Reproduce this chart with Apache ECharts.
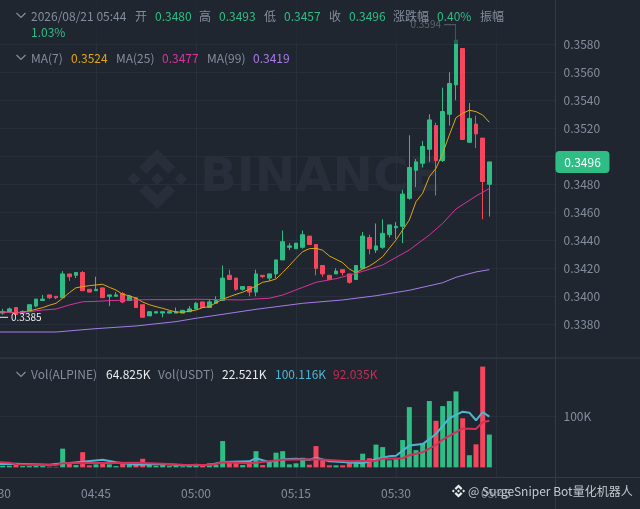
<!DOCTYPE html>
<html><head><meta charset="utf-8">
<style>html,body{margin:0;padding:0;background:#1f2630;overflow:hidden}#c{width:640px;height:509px}</style>
<script src="https://cdn.jsdelivr.net/npm/echarts@6/dist/echarts.min.js"></script>
</head><body><div id="c"></div>
<script>
const opens=[.3389,.3388,.3389,.3392,.3388,.3389,.3393,.3397,.3401,.3400,.3399,.3416,.3415,.3417,.3405,.3404,.3406,.3400,.3400,.3402,.3397,.3399,.3394,.3386,.3388,.3388,.3388,.3388,.3388,.3389,.3391,.3396,.3392,.3395,.3397,.3415,.3413,.3405,.3407,.3403,.3415,.3413,.3416,.3426,.3435,.3434,.3435,.3443,.3437,.3422,.3415,.3416,.3419,.3416,.3412,.3420,.3442,.3433,.3435,.3444,.3449,.3450,.3470,.3490,.3495,.3505,.3522,.3497,.3530,.3551,.3577,.3510,.3523,.3513,.3480];
const closes=[.3388,.3389,.3391,.3387,.3389,.3394,.3398,.3398,.3399,.3399,.3416,.3414,.3417,.3404,.3403,.3405,.3399,.3401,.3401,.3396,.3400,.3392,.3385,.3389,.3389,.3389,.3389,.3389,.3390,.3391,.3395,.3392,.3396,.3397,.3413,.3412,.3405,.3407,.3403,.3416,.3414,.3416,.3426,.3439,.3436,.3438,.3444,.3437,.3420,.3416,.3412,.3418,.3417,.3410,.3422,.3443,.3434,.3436,.3445,.3451,.3450,.3473,.3492,.3496,.3507,.3526,.3497,.3532,.3552,.3583,.3512,.3527,.3516,.3482,.3496];
const lows=[.3385,.3387,.3388,.3386,.3388,.3389,.3392,.3397,.3398,.3398,.3399,.3411,.3413,.3404,.3403,.3404,.3399,.3393,.3400,.3395,.3397,.3392,.3385,.3386,.3388,.3385,.3388,.3388,.3388,.3389,.3391,.3392,.3392,.3395,.3397,.3412,.3404,.3404,.3400,.3400,.3413,.3411,.3413,.3426,.3433,.3434,.3434,.3437,.3415,.3414,.3412,.3416,.3415,.3409,.3412,.3420,.3430,.3431,.3434,.3442,.3441,.3438,.3469,.3478,.3492,.3496,.3472,.3496,.3522,.3540,.3512,.3510,.3506,.3455,.3457];
const highs=[.3390,.3391,.3392,.3392,.3390,.3394,.3398,.3401,.3401,.3400,.3418,.3416,.3417,.3418,.3405,.3414,.3406,.3401,.3403,.3403,.3401,.3399,.3394,.3389,.3389,.3389,.3389,.3392,.3390,.3393,.3396,.3396,.3398,.3400,.3422,.3419,.3413,.3407,.3407,.3419,.3415,.3416,.3426,.3447,.3438,.3438,.3447,.3443,.3437,.3422,.3415,.3420,.3419,.3416,.3422,.3446,.3444,.3452,.3455,.3451,.3453,.3476,.3515,.3498,.3511,.3530,.3524,.3549,.3560,.3594,.3577,.3538,.3529,.3513,.3496];
const ma7=[.33890,.33888,.33886,.33883,.33888,.33895,.33907,.33919,.33936,.33950,.33986,.34026,.34061,.34069,.34076,.34081,.34086,.34064,.34045,.34014,.34004,.33986,.33959,.33940,.33926,.33914,.33900,.33888,.33886,.33893,.33902,.33919,.33926,.33954,.33979,.33997,.34014,.34029,.34050,.34074,.34100,.34109,.34124,.34169,.34219,.34271,.34319,.34340,.34343,.34329,.34288,.34264,.34240,.34195,.34169,.34195,.34216,.34247,.34283,.34343,.34402,.34474,.34545,.34676,.34736,.34854,.34914,.35021,.35152,.35276,.35307,.35329,.35319,.35295,.35243];
const ma25Points=[[0,.33890],[3,.33881],[5,.33890],[7,.33902],[9,.33909],[11,.33938],[13,.33961],[15,.33964],[17,.33969],[20,.33974],[23,.33976],[27,.33976],[30,.33979],[34,.33976],[37,.33974],[39,.33981],[41,.33986],[43,.34009],[46,.34064],[48,.34100],[51,.34126],[54,.34164],[56,.34193],[58,.34224],[62,.34331],[65,.34438],[67,.34521],[69,.34624],[72,.34716],[74,.34770]];
const ma99Points=[[0,.33745],[9,.33745],[15,.33769],[21,.33788],[27,.33819],[30,.33843],[39,.33907],[46,.33950],[52,.33974],[57,.34004],[62,.34043],[67,.34097],[69,.34136],[72,.34174],[74,.34190]];
const volumes=[6,3.3,3.3,6,2.6,2.6,3.3,2.6,1.5,1,37,6.6,4.6,30,4,6,8.6,6,2.6,6.6,6,6,17,5,3.3,4.6,2.6,4,2,4,7,4,8,4.6,52,9,8.6,4.6,12,32,4.6,10,29,32,6,8,19,5.3,42,14,4,4,4,10,10.5,27,18,45,40,14,16,54,119,34,47.5,131,92,121,131,150,97,24,45.5,199,64.825];
const volMaAPoints=[[0,6.6],[2,6.6],[3,7.3],[8,5.3],[10,8],[11,8.6],[13,11.2],[16,15],[18,10],[21,5.3],[25,6.6],[28,4],[32,4.6],[34,10.6],[38,12],[39,18],[40,14],[41,10.6],[43,16],[45,17],[47,15],[48,19],[50,12],[55,8],[57,16],[59,22],[60,23],[62,43],[64,46],[66,66],[68,97],[70,110],[71,108],[72,93],[73,109],[74,100.116]];
const volMaBPoints=[[0,10.5],[2,9.2],[3,6],[6,5.3],[8,4.6],[9,4.6],[10,8],[13,8.6],[17,8.6],[21,9],[25,7.3],[28,5.3],[32,4.6],[33,6.6],[34,10],[38,8],[40,10.6],[43,15],[48,16],[53,12],[57,13],[58,17],[61,18],[62,24],[64,30],[66,44],[67,55],[70,77],[72,76],[73,89],[74,92.035]];
const categories=[];
for(let m=270;m<355;m++){categories.push(String(Math.floor(m/60)).padStart(2,'0')+':'+String(m%60).padStart(2,'0'));}
const priceTicks=[.334,.336,.338,.340,.342,.344,.346,.348,.350,.352,.354,.356,.358,.360,.362];
const hiddenTicks=[.334,.336,.360,.362];
const UP='#2ebd85',DOWN='#f6465d',BG='#1f2630',GRID='#292f3a',SEP='#343a46',TXT='#848e9c';
const FONT='"Noto Sans CJK SC","Noto Sans",sans-serif';
const legendRows=[
 ['2026/08/21 05:44',31,16,TXT],['开',135,16,TXT],['0.3480',155,16,UP],['高',199,16,TXT],['0.3493',219,16,UP],['低',264,16,TXT],['0.3457',284,16,UP],['收',329,16,TXT],['0.3496',349,16,UP],['涨跌幅',393,16,TXT],['0.40%',437,16,UP],['振幅',480,16,TXT],['1.03%',31,32,UP],
 ['MA(7)',31,58,TXT],['0.3524',71,58,'#e2a70f'],['MA(25)',116,58,TXT],['0.3477',162,58,'#d9339e'],['MA(99)',207,58,TXT],['0.3419',253,58,'#a77be8'],
 ['Vol(ALPINE)',31,374,TXT],['64.825K',106,374,'#eaecef'],['Vol(USDT)',158,374,TXT],['22.521K',222,374,'#eaecef'],['100.116K',275,374,'#4fb6d2'],['92.035K',333,374,'#c92c55']
];
function chevron(x,y){return {type:'polyline',z:60,shape:{points:[[x-4.5,y-2],[x,y+2.5],[x+4.5,y-2]]},style:{stroke:'#848e9c',lineWidth:1.2,fill:null}};}
function logo(cx,cy,s,fill,z){
 const polys=[
  [[0,-30],[18,-12],[11,-5],[0,-16],[-11,-5],[-18,-12]],
  [[0,30],[18,12],[11,5],[0,16],[-11,5],[-18,12]],
  [[0,-6.5],[6.5,0],[0,6.5],[-6.5,0]],
  [[-23.5,-6.5],[-17,0],[-23.5,6.5],[-30,0]],
  [[23.5,-6.5],[30,0],[23.5,6.5],[17,0]]
 ];
 return polys.map(p=>({type:'polygon',z:z,shape:{points:p.map(q=>[cx+q[0]*s,cy+q[1]*s])},style:{fill:fill}}));
}
const graphics=[];
graphics.push(...logo(157.3,179,1,'#292f3a',-1));
graphics.push({type:'text',z:-1,x:200,y:179,scaleX:1.05,style:{text:'BINANCE',font:'bold 46px "DejaVu Sans",sans-serif',fill:'#292f3a',verticalAlign:'middle',textAlign:'left'}});
graphics.push({type:'rect',z:40,shape:{x:0,y:0,width:555,height:44},style:{fill:'rgba(31,38,48,0.6)'}});
graphics.push({type:'rect',z:41,shape:{x:555.5,y:0,width:5,height:509},style:{fill:BG}});
graphics.push({type:'line',z:42,shape:{x1:0,y1:358,x2:640,y2:358},style:{stroke:SEP,lineWidth:1}});
graphics.push({type:'line',z:42,shape:{x1:0,y1:477.5,x2:640,y2:477.5},style:{stroke:SEP,lineWidth:1}});
graphics.push({type:'line',z:42,shape:{x1:555.5,y1:0,x2:555.5,y2:509},style:{stroke:SEP,lineWidth:1}});
graphics.push(chevron(21,15),chevron(21,57),chevron(21,374));
legendRows.forEach(r=>graphics.push({type:'text',z:60,x:r[1],y:r[2],style:{text:r[0],font:'12px '+FONT,fill:r[3],verticalAlign:'middle',textAlign:'left'}}));
graphics.push({type:'rect',z:61,shape:{x:555.5,y:151,width:54,height:22,r:4},style:{fill:UP}});
graphics.push({type:'text',z:62,x:582.5,y:162,style:{text:'0.3496',font:'12px '+FONT,fill:'#fff',verticalAlign:'middle',textAlign:'center'}});
graphics.push(...logo(458.5,491,0.22,'#eaecef',70));
graphics.push({type:'text',z:70,x:468,y:491,style:{text:'@ SurgeSniper Bot量化机器人',font:'12px '+FONT,fill:'#c4c8cf',verticalAlign:'middle',textAlign:'left'}});

const chart=echarts.init(document.getElementById('c'),null,{renderer:'canvas'});
const xBase={type:'category',data:categories,boundaryGap:true,axisLine:{show:false},axisTick:{show:false},
 splitLine:{show:true,interval:14,alignWithLabel:true,lineStyle:{color:GRID,width:1}}};
chart.setOption({
 animation:false,backgroundColor:BG,textStyle:{fontFamily:FONT},
 grid:[
  {left:-7.33,top:-11.7,width:566.67,height:392,outerBoundsMode:'none',containLabel:false},
  {left:-7.33,top:358.5,width:566.67,height:119,outerBoundsMode:'none',containLabel:false}
 ],
 xAxis:[
  Object.assign({},xBase,{gridIndex:0,axisLabel:{show:false}}),
  Object.assign({},xBase,{gridIndex:1,axisLabel:{show:true,interval:14,color:TXT,fontSize:12,fontFamily:FONT,margin:10,hideOverlap:false}})
 ],
 yAxis:[
  {gridIndex:0,type:'value',position:'right',offset:-3.8,min:.334,max:.362,interval:.002,axisLine:{show:false},axisTick:{show:false},
   splitLine:{show:true,lineStyle:{color:priceTicks.map(t=>hiddenTicks.includes(t)?'rgba(0,0,0,0)':GRID),width:1}},
   axisLabel:{color:TXT,fontSize:12,fontFamily:FONT,margin:8,showMinLabel:true,showMaxLabel:true,formatter:v=>(v<.3375||v>.3585)?'':v.toFixed(4)}},
  {gridIndex:1,type:'value',position:'right',offset:-3.8,min:-20,max:215,interval:120,axisLine:{show:false},axisTick:{show:false},
   splitLine:{show:true,lineStyle:{color:GRID,width:1}},
   axisLabel:{color:TXT,fontSize:12,fontFamily:FONT,margin:8,formatter:v=>v===100?'100K':''}}
 ],
 series:[
  {type:'candlestick',xAxisIndex:0,yAxisIndex:0,barWidth:4,z:3,
   data:opens.map((o,i)=>[o,closes[i],lows[i],highs[i]]),
   itemStyle:{color:UP,color0:DOWN,borderColor:UP,borderColor0:DOWN,borderWidth:1},
   markPoint:{animation:false,z:4,data:[
    {coord:['05:39',.3594],symbol:'rect',symbolSize:[12,1],symbolOffset:[-6,0],itemStyle:{color:'#b7bdc6'},
     label:{show:true,position:'left',distance:3,formatter:'0.3594',color:'#b7bdc6',fontSize:10,fontFamily:FONT}},
    {coord:['04:30',.3385],symbol:'rect',symbolSize:[12,1],symbolOffset:[6,0],itemStyle:{color:'#eaecef'},
     label:{show:true,position:'right',distance:3,formatter:'0.3385',color:'#eaecef',fontSize:10,fontFamily:FONT}}
   ]}},
  {type:'line',xAxisIndex:0,yAxisIndex:0,data:ma7.map((v,i)=>[i,v]),showSymbol:false,symbol:'none',lineStyle:{color:'#e2a70f',width:1},z:5},
  {type:'line',xAxisIndex:0,yAxisIndex:0,data:ma25Points,showSymbol:false,symbol:'none',lineStyle:{color:'#d9339e',width:1},z:5},
  {type:'line',xAxisIndex:0,yAxisIndex:0,data:ma99Points,showSymbol:false,symbol:'none',lineStyle:{color:'#a77be8',width:1},z:5},
  {type:'bar',xAxisIndex:1,yAxisIndex:1,barWidth:5,z:3,
   data:volumes.map((v,i)=>({value:v,itemStyle:{color:closes[i]>=opens[i]?UP:DOWN}}))},
  {type:'line',xAxisIndex:1,yAxisIndex:1,data:volMaAPoints,showSymbol:false,symbol:'none',lineStyle:{color:'#4fb6d2',width:2},z:5},
  {type:'line',xAxisIndex:1,yAxisIndex:1,data:volMaBPoints,showSymbol:false,symbol:'none',lineStyle:{color:'#d6305a',width:2},z:6}
 ],
 graphic:{elements:graphics}
});
</script></body></html>
